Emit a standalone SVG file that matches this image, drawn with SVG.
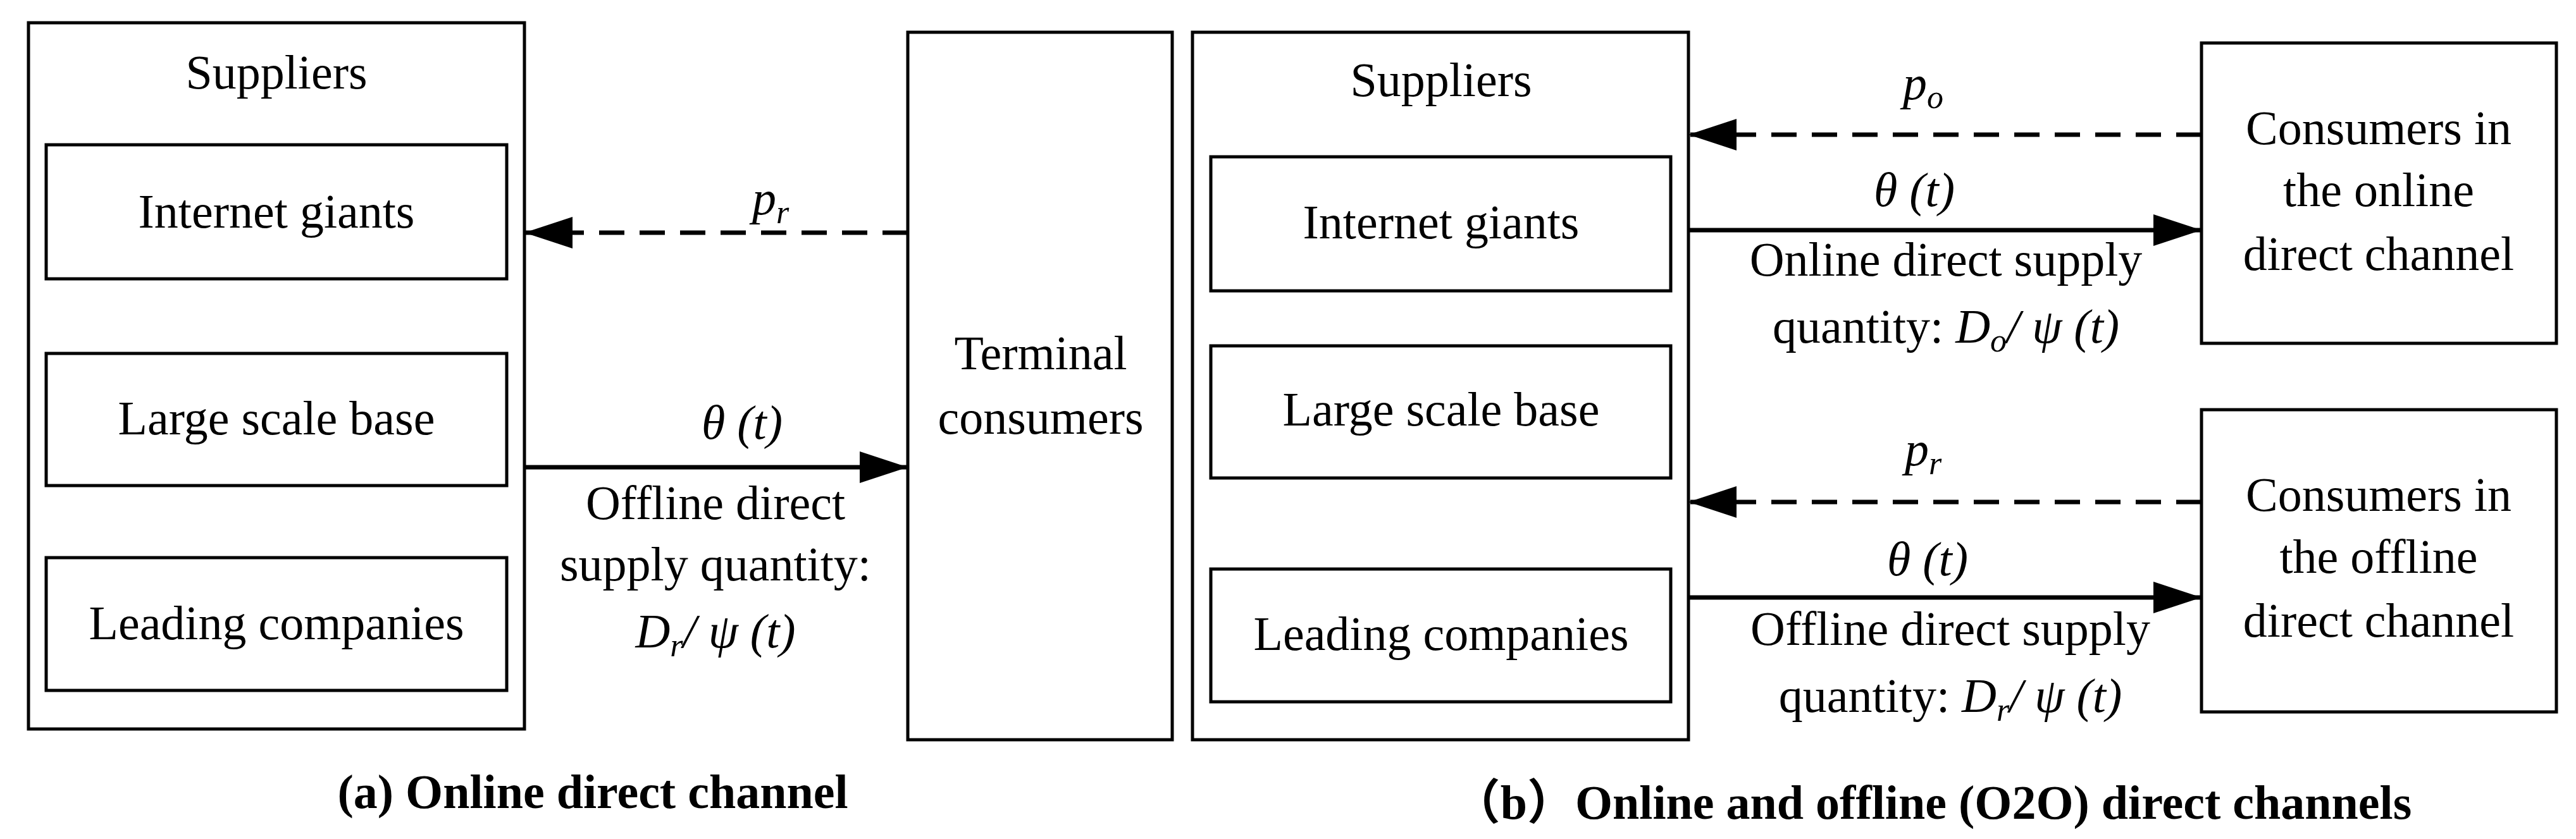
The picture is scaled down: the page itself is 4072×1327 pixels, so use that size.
<svg xmlns="http://www.w3.org/2000/svg" width="4072" height="1327" viewBox="0 0 4072 1327">
<style>
rect{fill:#fff;stroke:#000;stroke-width:5}
text{font-family:"Liberation Serif",serif;font-size:76px;text-anchor:middle;fill:#000}
.i{font-style:italic}
.b{font-weight:bold}
.s{stroke:#000;stroke-width:7;fill:none}
.d{stroke-dasharray:40 24}
</style>
<defs><marker id="ah" markerWidth="76" markerHeight="50" refX="76" refY="25" markerUnits="userSpaceOnUse" orient="auto"><path d="M0,0L76,25L0,50z" fill="#000"/></marker></defs>
<rect width="4072" height="1327" style="stroke:none"/>
<g id="suppliers-a"><rect x="45" y="36" width="784" height="1117"/><text x="437" y="140">Suppliers</text></g>
<g id="internet-a"><rect x="73" y="229" width="728" height="212"/><text x="437" y="360">Internet giants</text></g>
<g id="large-a"><rect x="73" y="559" width="728" height="209"/><text x="437" y="687">Large scale base</text></g>
<g id="leading-a"><rect x="73" y="882" width="728" height="210"/><text x="437" y="1011">Leading companies</text></g>
<g id="terminal"><rect x="1435" y="51" width="418" height="1119"/><text x="1645" y="584">Terminal</text><text x="1645" y="686">consumers</text></g>
<g id="suppliers-b"><rect x="1885" y="51" width="784" height="1119"/><text x="2278" y="152">Suppliers</text></g>
<g id="internet-b"><rect x="1914" y="248" width="727" height="212"/><text x="2278" y="377">Internet giants</text></g>
<g id="large-b"><rect x="1914" y="547" width="727" height="209"/><text x="2278" y="673">Large scale base</text></g>
<g id="leading-b"><rect x="1914" y="900" width="727" height="210"/><text x="2278" y="1028">Leading companies</text></g>
<g id="online-c"><rect x="3480" y="68" width="561" height="475"/><text x="3760" y="228">Consumers in</text><text x="3760" y="326">the online</text><text x="3760" y="427">direct channel</text></g>
<g id="offline-c"><rect x="3480" y="648" width="561" height="478"/><text x="3760" y="808">Consumers in</text><text x="3760" y="906">the offline</text><text x="3760" y="1007">direct channel</text></g>
<g id="connectors">
<line class="s d" x1="1435" y1="368" x2="829" y2="368" marker-end="url(#ah)"/>
<line class="s" x1="829" y1="739" x2="1435" y2="739" marker-end="url(#ah)"/>
<line class="s d" x1="3480" y1="213" x2="2669" y2="213" marker-end="url(#ah)"/>
<line class="s" x1="2669" y1="364" x2="3480" y2="364" marker-end="url(#ah)"/>
<line class="s d" x1="3480" y1="794" x2="2669" y2="794" marker-end="url(#ah)"/>
<line class="s" x1="2669" y1="945" x2="3480" y2="945" marker-end="url(#ah)"/>
</g>
<g id="labels">
<text class="i" x="1218" y="339">p<tspan font-size="52" dy="14">r</tspan></text>
<text class="i" x="1173" y="694">θ (t)</text>
<text x="1131" y="821">Offline direct</text>
<text x="1131" y="918">supply quantity:</text>
<text class="i" x="1131" y="1024">D<tspan font-size="52" dy="14">r</tspan><tspan dy="-14">/ ψ  (t)</tspan></text>
<text class="i" x="3040" y="157">p<tspan font-size="52" dy="14">o</tspan></text>
<text class="i" x="3026" y="326">θ (t)</text>
<text x="3076" y="436">Online  direct supply</text>
<text x="3076" y="542">quantity: <tspan class="i">D<tspan font-size="52" dy="14">o</tspan><tspan dy="-14">/ ψ  (t)</tspan></tspan></text>
<text class="i" x="3040" y="736">p<tspan font-size="52" dy="14">r</tspan></text>
<text class="i" x="3047" y="910">θ (t)</text>
<text x="3083" y="1020">Offline  direct supply</text>
<text x="3083" y="1126">quantity:  <tspan class="i">D<tspan font-size="52" dy="14">r</tspan><tspan dy="-14">/ ψ  (t)</tspan></tspan></text>
<text class="b" x="937" y="1278">(a) Online direct channel</text>
<text class="b" x="3054" y="1295" style="font-family:'Liberation Serif','Noto Sans CJK SC',serif">（b）Online and offline (O2O) direct channels</text>
</g>
</svg>
